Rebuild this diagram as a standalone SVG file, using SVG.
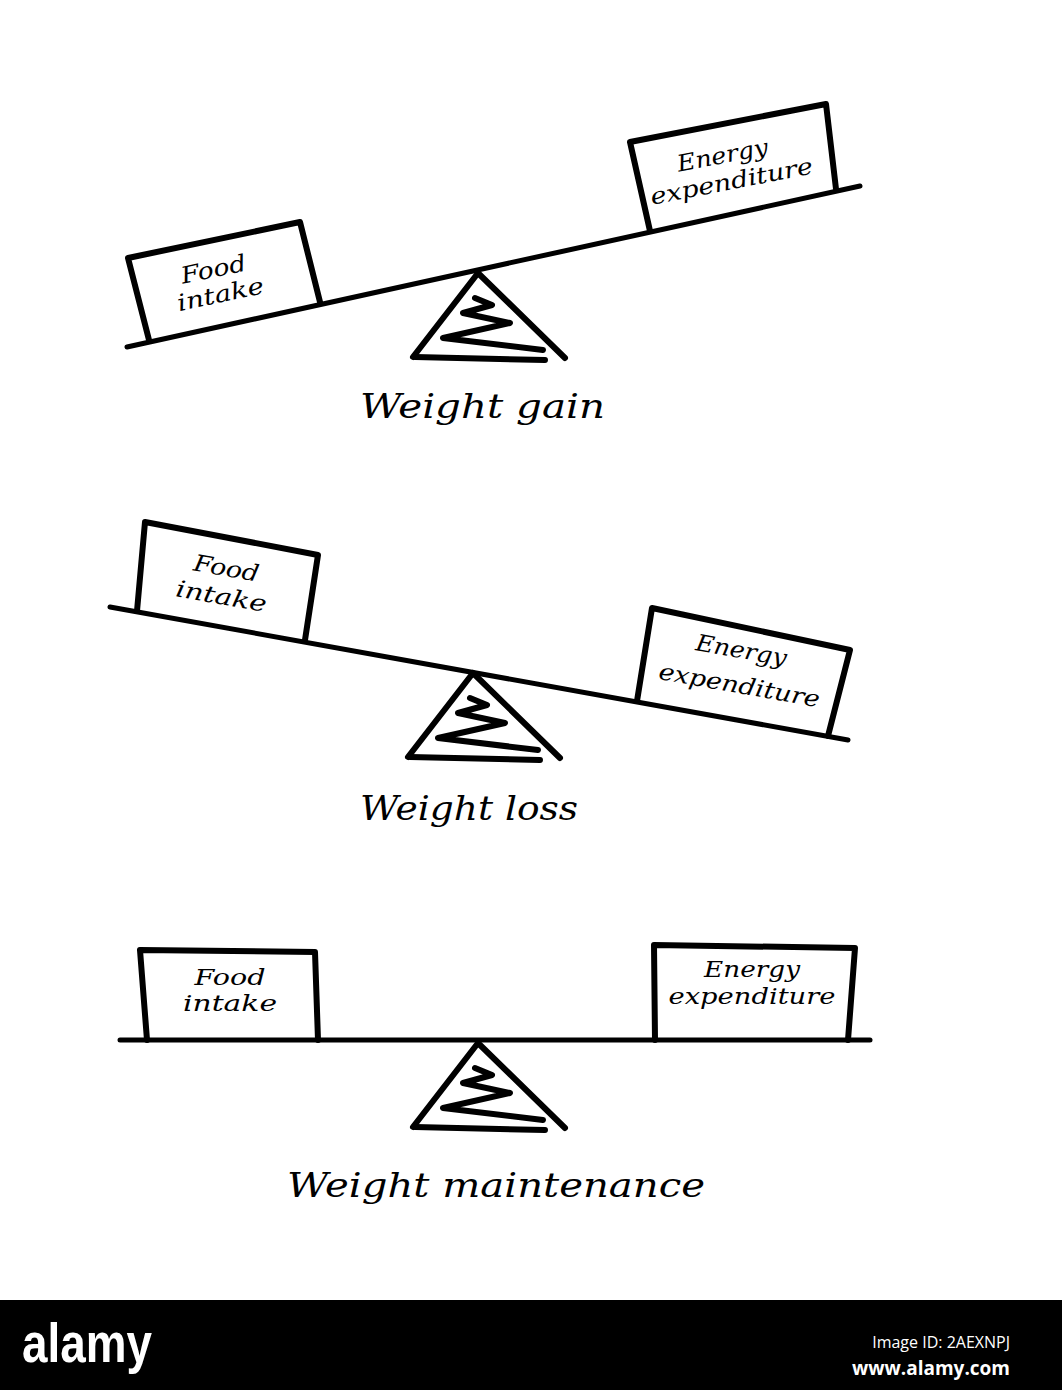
<svg xmlns="http://www.w3.org/2000/svg" width="1062" height="1390" viewBox="0 0 1062 1390">
<style>
.ln{fill:none;stroke:#000;stroke-width:6;stroke-linecap:round;stroke-linejoin:round}
.bm{fill:none;stroke:#000;stroke-width:5;stroke-linecap:round}
.bx{font-family:"DejaVu Serif",serif;font-style:italic;font-size:23px;fill:#000;text-anchor:middle}
.lb{font-family:"DejaVu Serif",serif;font-style:italic;font-size:34px;fill:#000}
</style>
<defs>
<g id="fulcrum">
<path class="ln" d="M413,357 L478,273 L565,358"/>
<path class="ln" d="M415,357 L545,360"/>
<path class="ln" d="M475,298 L492,305 L463,313 L510,323 L443,338 L543,350"/>
</g>
</defs>
<rect x="0" y="0" width="1062" height="1390" fill="#fff"/>

<g id="connectors">
<line class="bm" x1="127" y1="347" x2="860" y2="186"/>
<line class="bm" x1="110" y1="607" x2="848" y2="740"/>
<line class="bm" x1="120" y1="1040" x2="870" y2="1040"/>
</g>

<!-- Panel 1: weight gain -->
<g id="gain-fulcrum"><use href="#fulcrum"/></g>
<g id="gain-food">
<path class="ln" d="M149,340 L128,258 L300,222 L320,302"/>
<text class="bx" transform="translate(215,277) rotate(-12)" textLength="66" lengthAdjust="spacingAndGlyphs">Food</text>
<text class="bx" transform="translate(222,302) rotate(-12)" textLength="88" lengthAdjust="spacingAndGlyphs">intake</text>
</g>
<g id="gain-energy">
<path class="ln" d="M650,231 L630,142 L826,104 L836,189"/>
<text class="bx" transform="translate(724,163) rotate(-11)" textLength="92" lengthAdjust="spacingAndGlyphs">Energy</text>
<text class="bx" transform="translate(733,189) rotate(-11)" textLength="165" lengthAdjust="spacingAndGlyphs">expenditure</text>
</g>
<g id="gain-label"><text class="lb" x="360" y="418" textLength="245" lengthAdjust="spacingAndGlyphs">Weight gain</text></g>

<!-- Panel 2: weight loss -->
<g id="loss-fulcrum"><use href="#fulcrum" transform="translate(-5,400)"/></g>
<g id="loss-food">
<path class="ln" d="M137,611 L145,522 L318,555 L305,640"/>
<text class="bx" transform="translate(225,576) rotate(10)" textLength="66" lengthAdjust="spacingAndGlyphs">Food</text>
<text class="bx" transform="translate(220,604) rotate(10)" textLength="92" lengthAdjust="spacingAndGlyphs">intake</text>
</g>
<g id="loss-energy">
<path class="ln" d="M637,701 L652,608 L850,650 L828,736"/>
<text class="bx" transform="translate(740,658) rotate(10)" textLength="92" lengthAdjust="spacingAndGlyphs">Energy</text>
<text class="bx" transform="translate(738,693) rotate(10)" textLength="163" lengthAdjust="spacingAndGlyphs">expenditure</text>
</g>
<g id="loss-label"><text class="lb" x="360" y="820" textLength="218" lengthAdjust="spacingAndGlyphs">Weight loss</text></g>

<!-- Panel 3: weight maintenance -->
<g id="maint-fulcrum"><use href="#fulcrum" transform="translate(0,770)"/></g>
<g id="maint-food">
<path class="ln" d="M147,1040 L140,950 L315,952 L318,1040"/>
<text class="bx" x="230" y="985" textLength="71" lengthAdjust="spacingAndGlyphs">Food</text>
<text class="bx" x="230" y="1011" textLength="94" lengthAdjust="spacingAndGlyphs">intake</text>
</g>
<g id="maint-energy">
<path class="ln" d="M655,1040 L654,945 L855,948 L848,1040"/>
<text class="bx" x="752" y="977" textLength="96" lengthAdjust="spacingAndGlyphs">Energy</text>
<text class="bx" x="752" y="1004" textLength="167" lengthAdjust="spacingAndGlyphs">expenditure</text>
</g>
<g id="maint-label"><text class="lb" x="287" y="1197" textLength="418" lengthAdjust="spacingAndGlyphs">Weight maintenance</text></g>

<!-- footer -->
<g id="footer">
<rect x="0" y="1300" width="1062" height="90" fill="#000"/>
<text x="22" y="1362" font-family="Liberation Sans,sans-serif" font-weight="bold" font-size="56" fill="#fff" textLength="130" lengthAdjust="spacingAndGlyphs">alamy</text>
<text x="1010" y="1348" font-family="Open Sans,sans-serif" font-size="16" fill="#fff" text-anchor="end">Image ID: 2AEXNPJ</text>
<text x="1010" y="1375" font-family="Open Sans,sans-serif" font-weight="bold" font-size="19" fill="#fff" text-anchor="end">www.alamy.com</text>
</g>
</svg>
